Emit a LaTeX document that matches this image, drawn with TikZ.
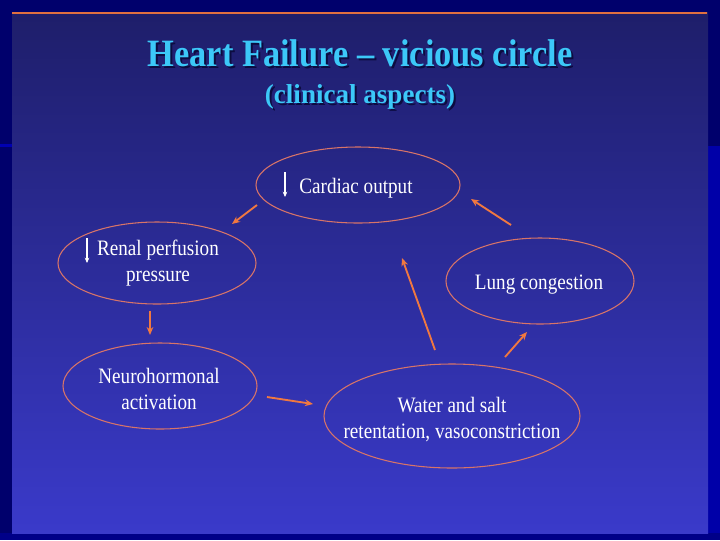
\documentclass[tikz,border=0pt]{standalone}
\usepackage{fontspec}
\setmainfont{Liberation Serif}
\usetikzlibrary{shapes.geometric,arrows.meta,calc}
\definecolor{outerbg}{HTML}{00006C}
\definecolor{rightbg}{HTML}{0000A8}
\definecolor{bottombg}{HTML}{000088}
\definecolor{paneltop}{HTML}{1E1E6A}
\definecolor{panelbot}{HTML}{3A3ACA}
\definecolor{rulecol}{HTML}{E07040}
\definecolor{titlecol}{HTML}{3CC8F8}
\definecolor{shadowcol}{HTML}{0C0C40}
\definecolor{ellcol}{HTML}{D87468}
\definecolor{arrcol}{HTML}{F07840}
\begin{document}
\begin{tikzpicture}[x=0.75pt,y=-0.75pt,
  bub/.style={ellipse,draw=ellcol,line width=0.8pt,inner sep=0pt},
  lbl/.style={text=white,font=\fontsize{16.5}{19.5}\selectfont,xscale=0.87,align=center,anchor=base,inner sep=0pt},
  arr/.style={draw=arrcol,line width=1.4pt,-{Stealth[length=6pt,width=5pt]}},
  downarr/.style={draw=white,line width=1.2pt,-{Stealth[length=4pt,width=3.5pt]}},
  ttl/.style={font=\bfseries\fontsize{29}{30}\selectfont,xscale=0.89,anchor=base,inner sep=0pt},
  subttl/.style={font=\bfseries\fontsize{20.5}{22}\selectfont,xscale=0.99,anchor=base,inner sep=0pt}]
\useasboundingbox (0,0) rectangle (720,540);
% background
\fill[outerbg] (0,0) rectangle (720,540);
\fill[rightbg] (708,146) rectangle (720,540);
\fill[bottombg] (0,533) rectangle (720,540);
\fill[blue!70!black] (0,144) rectangle (12,147);
\shade[top color=paneltop,bottom color=panelbot] (12,12) rectangle (708,533);
\draw[rulecol,line width=1.6pt] (12,13) -- (707,13);
% title
\node[ttl,text=shadowcol] (titlesh) at (362,68) {Heart Failure -- vicious circle};
\node[ttl,text=titlecol] (title) at (360,66) {Heart Failure -- vicious circle};
\node[subttl,text=shadowcol] (subsh) at (362,105) {(clinical aspects)};
\node[subttl,text=titlecol] (sub) at (360,103) {(clinical aspects)};
% ellipses
\node[bub,minimum width=204*0.75pt,minimum height=76*0.75pt] (cardiac) at (358,185) {};
\node[bub,minimum width=198*0.75pt,minimum height=82*0.75pt] (renal) at (157,263) {};
\node[bub,minimum width=188*0.75pt,minimum height=86*0.75pt] (lung) at (540,281) {};
\node[bub,minimum width=194*0.75pt,minimum height=86*0.75pt] (neuro) at (160,386) {};
\node[bub,minimum width=256*0.75pt,minimum height=104*0.75pt] (water) at (452,416) {};
% texts (base = baseline of the last line)
\node[lbl] (cardiact) at (356,193) {Cardiac output};
\node[lbl] (renalt) at (158,281) {Renal perfusion\\pressure};
\node[lbl] (lungt) at (539,289) {Lung congestion};
\node[lbl] (neurot) at (159,409) {Neurohormonal\\activation};
\node[lbl] (watert) at (452,438) {Water and salt\\retentation, vasoconstriction};
% down arrows in text
\draw[downarr] ([shift={(-73,-13)}]cardiac.center) -- ([shift={(-73,12)}]cardiac.center);
\draw[downarr] ([shift={(-70,-25)}]renal.center) -- ([shift={(-70,0)}]renal.center);
% connectors
\draw[arr] ([shift={(-101,20)}]cardiac.center) -- ([shift={(75,-39)}]renal.center);
\draw[arr] ([shift={(-7,48)}]renal.center) -- ([shift={(-10,-51)}]neuro.center);
\draw[arr] ([shift={(107,11)}]neuro.center) -- ([shift={(-139,-12)}]water.center);
\draw[arr] ([shift={(-17,-66)}]water.center) -- ([shift={(44,73)}]cardiac.center);
\draw[arr] ([shift={(53,-59)}]water.center) -- ([shift={(-13,51)}]lung.center);
\draw[arr] ([shift={(-29,-56)}]lung.center) -- ([shift={(113,14)}]cardiac.center);
\end{tikzpicture}
\end{document}
